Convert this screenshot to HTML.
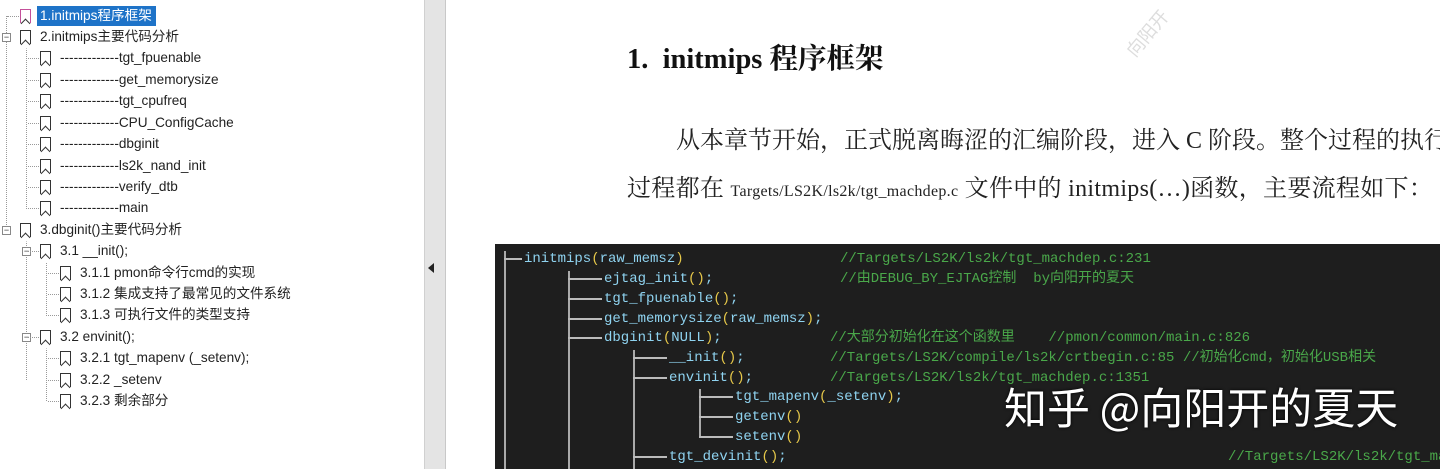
<!DOCTYPE html>
<html><head><meta charset="utf-8"><style>
*{margin:0;padding:0;box-sizing:border-box}
body{width:1440px;height:469px;overflow:hidden;background:#fff;position:relative;font-family:"Liberation Sans","Noto Sans CJK SC",sans-serif}
.t{position:absolute;font-size:13.6px;color:#222;white-space:nowrap;line-height:16px}
.bm{position:absolute;width:11px;height:14px;border:1.5px solid #333;border-bottom:none}
.bm:after{content:"";position:absolute;width:6px;height:6px;border-left:1.5px solid #333;border-top:1.5px solid #333;transform:rotate(45deg);background:#fff;left:1.2px;bottom:-4px}
.vl{position:absolute;border-left:1px dotted #999}
.hl{position:absolute;border-top:1px dotted #999;height:0}
.pm{position:absolute;width:9px;height:9px;border:1px solid #888;background:#fff;font-size:9px;line-height:7px;text-align:center;color:#333}
.c{position:absolute;font-family:"Liberation Mono","Noto Sans CJK SC",monospace;font-size:14px;white-space:nowrap;line-height:16px}
.f{color:#8fd3f0}.y{color:#e6c84a}.g{color:#4aa84a}
.v{position:absolute;width:2px;background:#aaa}
.h{position:absolute;height:2px;background:#bbb}
.s{font-family:'Liberation Serif','Noto Serif CJK SC',serif}
</style></head><body>
<div class="vl" style="left:6px;top:16px;height:215px"></div>
<div class="vl" style="left:26px;top:45px;height:164px"></div>
<div class="vl" style="left:26px;top:238px;height:142px"></div>
<div class="vl" style="left:46px;top:260px;height:56px"></div>
<div class="vl" style="left:46px;top:345px;height:56px"></div>
<div class="pm" style="left:2px;top:33px">−</div>
<div class="pm" style="left:2px;top:226px">−</div>
<div class="pm" style="left:22px;top:247px">−</div>
<div class="pm" style="left:22px;top:333px">−</div>

<div style="position:absolute;left:37px;top:6px;width:119px;height:20px;background:#1e73c8"></div>
<div class="t" style="left:40px;top:8px;color:#fff">1.initmips程序框架</div>
<div class="bm" style="left:20px;top:9px;border-color:#c4509a"></div>
<div class="hl" style="left:7px;top:16px;width:12px"></div>

<div id="tree"></div>
<script>
var rows=[
[0,37,"2.initmips主要代码分析"],
[1,58,"-------------tgt_fpuenable"],
[1,80,"-------------get_memorysize"],
[1,101,"-------------tgt_cpufreq"],
[1,123,"-------------CPU_ConfigCache"],
[1,144,"-------------dbginit"],
[1,166,"-------------ls2k_nand_init"],
[1,187,"-------------verify_dtb"],
[1,208,"-------------main"],
[0,230,"3.dbginit()主要代码分析"],
[1,251,"3.1 __init();"],
[2,273,"3.1.1 pmon命令行cmd的实现"],
[2,294,"3.1.2 集成支持了最常见的文件系统"],
[2,315,"3.1.3 可执行文件的类型支持"],
[1,337,"3.2 envinit();"],
[2,358,"3.2.1 tgt_mapenv (_setenv);"],
[2,380,"3.2.2 _setenv"],
[2,401,"3.2.3 剩余部分"]];
var h="";
rows.forEach(function(r){var l=r[0],y=r[1];
h+='<div class="bm" style="left:'+(20+l*20)+'px;top:'+(y-7)+'px"></div>';
h+='<div class="hl" style="left:'+(8+l*20)+'px;top:'+y+'px;width:'+(l==0?0:11)+'px"></div>';
h+='<div class="t" style="left:'+(40+l*20)+'px;top:'+(y-8)+'px">'+r[2]+'</div>';});
document.getElementById("tree").innerHTML=h;
</script>

<div style="position:absolute;left:424px;top:0;width:22px;height:469px;background:#e4e4e4;border-left:1px solid #d0d0d0;border-right:1px solid #c8c8c8"></div>
<div style="position:absolute;left:428px;top:263px;width:0;height:0;border-top:5px solid transparent;border-bottom:5px solid transparent;border-right:6px solid #222"></div>

<div class="s" style="position:absolute;left:627px;top:36px;font-weight:bold;font-size:28.5px;color:#111;white-space:nowrap">1.&nbsp; initmips 程序框架</div>
<div class="s" style="position:absolute;left:676px;top:120px;font-size:24px;color:#222;white-space:nowrap">从本章节开始，正式脱离晦涩的汇编阶段，进入 C 阶段。整个过程的执行</div>
<div class="s" style="position:absolute;left:627px;top:168px;font-size:24px;color:#222;white-space:nowrap;letter-spacing:0.3px">过程都在 <span style="font-size:16px">Targets/LS2K/ls2k/tgt_machdep.c</span> 文件中的 initmips(…)函数，主要流程如下：</div>
<div style="position:absolute;left:1120px;top:20px;transform:rotate(-50deg);color:#ddd;font-size:18px;font-family:'Noto Sans CJK SC',sans-serif">向阳开</div>

<div style="position:absolute;left:495px;top:244px;width:945px;height:225px;background:#1e1e1e"></div>
<div class="v" style="left:504px;top:251px;height:218px"></div>
<div class="v" style="left:568px;top:271px;height:198px"></div>
<div class="v" style="left:633px;top:350px;height:119px"></div>
<div class="v" style="left:699px;top:389px;height:48px"></div>
<div class="h" style="left:504px;top:258px;width:18px"></div>
<div class="h" style="left:568px;top:278px;width:34px"></div>
<div class="h" style="left:568px;top:298px;width:34px"></div>
<div class="h" style="left:568px;top:318px;width:34px"></div>
<div class="h" style="left:568px;top:337px;width:34px"></div>
<div class="h" style="left:633px;top:357px;width:34px"></div>
<div class="h" style="left:633px;top:377px;width:34px"></div>
<div class="h" style="left:699px;top:396px;width:34px"></div>
<div class="h" style="left:699px;top:416px;width:34px"></div>
<div class="h" style="left:699px;top:436px;width:34px"></div>
<div class="h" style="left:633px;top:456px;width:34px"></div>

<div class="c" style="left:524px;top:251px"><span class="f">initmips</span><span class="y">(</span><span class="f">raw_memsz</span><span class="y">)</span></div>
<div class="c g" style="left:840px;top:251px">//Targets/LS2K/ls2k/tgt_machdep.c:231</div>
<div class="c" style="left:604px;top:271px"><span class="f">ejtag_init</span><span class="y">()</span><span class="f">;</span></div>
<div class="c g" style="left:840px;top:271px">//由DEBUG_BY_EJTAG控制&nbsp; by向阳开的夏天</div>
<div class="c" style="left:604px;top:291px"><span class="f">tgt_fpuenable</span><span class="y">()</span><span class="f">;</span></div>
<div class="c" style="left:604px;top:311px"><span class="f">get_memorysize</span><span class="y">(</span><span class="f">raw_memsz</span><span class="y">)</span><span class="f">;</span></div>
<div class="c" style="left:604px;top:330px"><span class="f">dbginit</span><span class="y">(</span><span class="f">NULL</span><span class="y">)</span><span class="f">;</span></div>
<div class="c g" style="left:830px;top:330px">//大部分初始化在这个函数里&nbsp;&nbsp;&nbsp; //pmon/common/main.c:826</div>
<div class="c" style="left:669px;top:350px"><span class="f">__init</span><span class="y">()</span><span class="f">;</span></div>
<div class="c g" style="left:830px;top:350px">//Targets/LS2K/compile/ls2k/crtbegin.c:85 //初始化cmd，初始化USB相关</div>
<div class="c" style="left:669px;top:370px"><span class="f">envinit</span><span class="y">()</span><span class="f">;</span></div>
<div class="c g" style="left:830px;top:370px">//Targets/LS2K/ls2k/tgt_machdep.c:1351</div>
<div class="c" style="left:735px;top:389px"><span class="f">tgt_mapenv</span><span class="y">(</span><span class="f">_setenv</span><span class="y">)</span><span class="f">;</span></div>
<div class="c" style="left:735px;top:409px"><span class="f">getenv</span><span class="y">()</span></div>
<div class="c" style="left:735px;top:429px"><span class="f">setenv</span><span class="y">()</span></div>
<div class="c" style="left:669px;top:449px"><span class="f">tgt_devinit</span><span class="y">()</span><span class="f">;</span></div>
<div class="c g" style="left:1228px;top:449px">//Targets/LS2K/ls2k/tgt_machdep.c</div>
<div style="position:absolute;left:1004px;top:380px;font-family:'Noto Sans CJK SC',sans-serif;font-size:43px;color:#fff;white-space:nowrap;line-height:52px;text-shadow:0 0 3px #000">知乎 @向阳开的夏天</div>
</body></html>
